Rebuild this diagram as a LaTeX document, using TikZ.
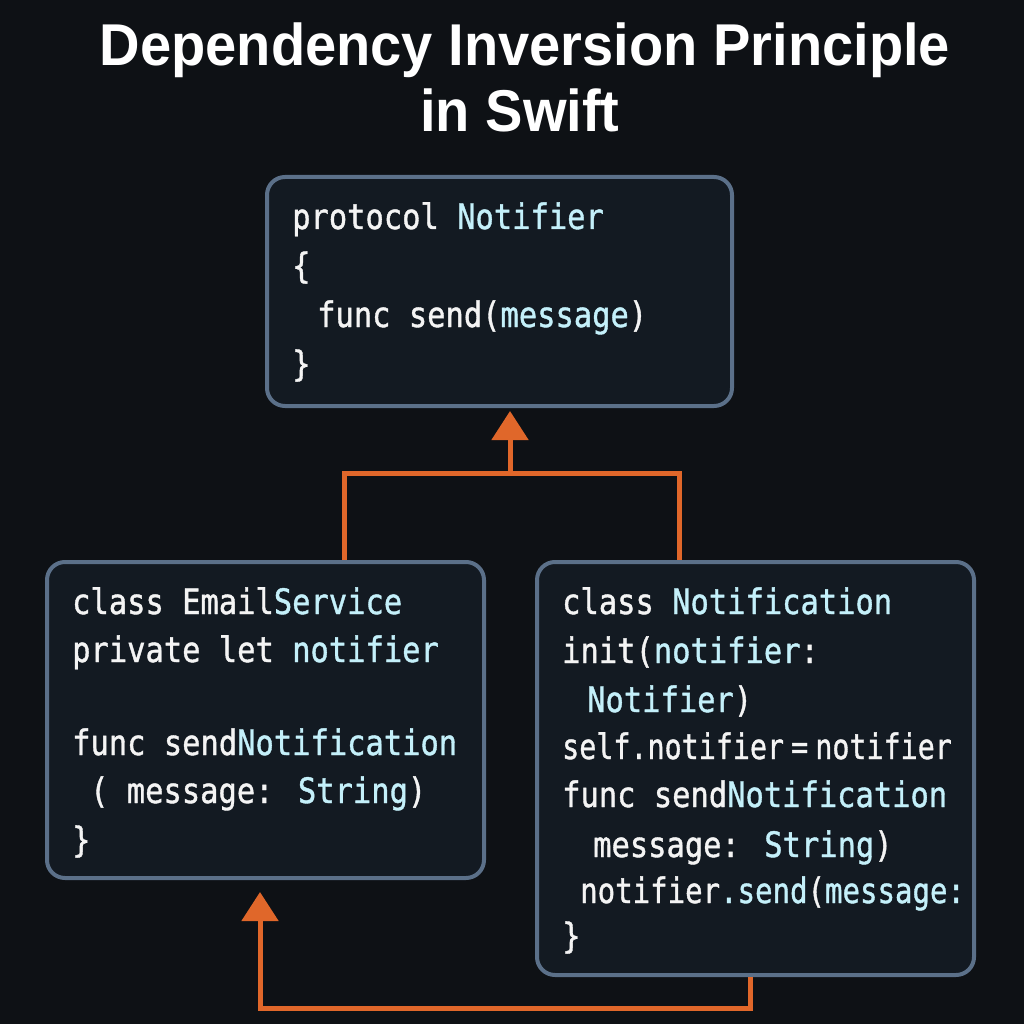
\documentclass[tikz,border=0pt]{standalone}
\usepackage{fontspec}
\usetikzlibrary{arrows.meta}
\newfontfamily\titlefont{Liberation Sans}
\newfontfamily\codefont{DejaVu Sans Mono}[FakeBold=1.2]

\definecolor{bgcol}{HTML}{0E1115}
\definecolor{boxfill}{HTML}{131A22}
\definecolor{boxedge}{HTML}{5B7089}
\definecolor{codewhite}{HTML}{F4F4F4}
\definecolor{codecyan}{HTML}{C4F0FA}
\definecolor{linkorange}{HTML}{E0672A}

% cyan highlight inside a code line
\newcommand\cy[1]{\textcolor{codecyan}{#1}}
% condensed monospace line
\newcommand\codeln[2][0.87]{\scalebox{#1}[1]{#2}}
% slightly condensed heading line
\newcommand\headln[1]{\scalebox{0.95}[1]{#1}}

\tikzset{
  codebox/.style={draw=boxedge, fill=boxfill, line width=4pt, rounded corners=18pt, inner sep=0pt},
  codetxt/.style={anchor=base west, inner sep=0pt, text=codewhite,
    font=\codefont\fontsize{35}{35}\selectfont},
  conn/.style={draw=linkorange, line width=5pt},
  connarrow/.style={conn, -{Triangle[width=36pt,length=29pt]}},
  titletxt/.style={text=white, font=\titlefont\bfseries\fontsize{59}{59}\selectfont, inner sep=0pt, anchor=base}
}

\begin{document}
\begin{tikzpicture}[x=1pt,y=-1pt]
  % page background
  \fill[bgcol] (0,0) rectangle (1024,1024);

  % title
  \node[titletxt] (t1) at (525,66) {\headln{Dependency Inversion Principle}};
  \node[titletxt] (t2) at (520,132) {\headln{in Swift}};

  % boxes
  \node[codebox, minimum width=465pt, minimum height=229pt] (proto) at (499.5,291.5) {};
  \node[codebox, minimum width=437pt, minimum height=316pt] (email) at (265.5,720) {};
  \node[codebox, minimum width=437pt, minimum height=413pt] (notif) at (755.5,768.5) {};

  % protocol Notifier
  \node[codetxt] (p1) at (292,229) {\codeln{protocol \cy{Notifier}}};
  \node[codetxt] (p2) at (292,278) {\codeln{\{}};
  \node[codetxt] (p3) at (317,327) {\codeln{func send(\cy{message})}};
  \node[codetxt] (p4) at (292,376) {\codeln{\}}};

  % class EmailService
  \node[codetxt] (e1) at (72,614) {\codeln{class Email\cy{Service}}};
  \node[codetxt] (e2) at (72,662) {\codeln{private let \cy{notifier}}};
  \node[codetxt] (e3) at (72,755) {\codeln{func send\cy{Notification}}};
  \node[codetxt] (e4) at (90,803) {\codeln{( message: \cy{String})}};
  \node[codetxt] (e5) at (72,852) {\codeln{\}}};

  % class Notification
  \node[codetxt] (n1) at (562,614) {\codeln{class \cy{Notification}}};
  \node[codetxt] (n2) at (562,663) {\codeln{init(\cy{notifier}:}};
  \node[codetxt] (n3) at (587,712) {\codeln{\cy{Notifier})}};
  \node[codetxt] (n4) at (562,759) {\codeln[0.81]{self.notifier\hspace{0.25em}=\hspace{0.25em}notifier}};
  \node[codetxt] (n5) at (562,807) {\codeln{func send\cy{Notification}}};
  \node[codetxt] (n6) at (593,857) {\codeln{message: \cy{String})}};
  \node[codetxt] (n7) at (580,903) {\codeln[0.83]{notifier\cy{.send}(\cy{message:}}};
  \node[codetxt] (n8) at (562,948) {\codeln{\}}};

  % connector junctions
  \coordinate (jmid) at (510,473);
  \coordinate (jleft) at (344,473);
  \coordinate (jright) at (679,473);
  \coordinate (low) at (750,1008);

  % both classes up to the protocol
  \draw[conn] (email.north -| jleft) -- (jleft) -- (jright) -- (notif.north -| jright);
  \draw[connarrow, shorten >=3pt] (jmid) -- (proto.south -| jmid);

  % Notification back to EmailService
  \draw[connarrow, shorten >=12pt] (notif.south -| low) -- (low) -- (low -| 260,0) -- (email.south -| 260,0);
\end{tikzpicture}
\end{document}
